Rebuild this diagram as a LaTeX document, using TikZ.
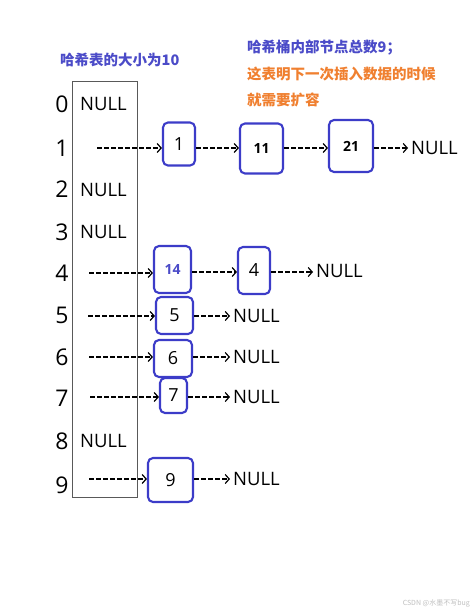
\documentclass[tikz,border=0pt]{standalone}
\usepackage{fontspec}
\setmainfont{Open Sans}
\newfontfamily\cjk{Noto Sans CJK SC}
\usetikzlibrary{arrows.meta}
\definecolor{boxblue}{RGB}{60,60,200}
\definecolor{titleblue}{RGB}{75,75,200}
\definecolor{noteorange}{RGB}{240,128,48}
\tikzset{
  bucket/.style={draw=boxblue,line width=2.1pt,rounded corners=5pt,inner sep=0pt},
  ptr/.style={dashed,dash pattern=on 4.5pt off 2.5pt,line width=1.25pt,-{Straight Barb[length=4pt,width=9pt,line width=1.2pt]}},
  idx/.style={font=\fontsize{23}{23}\selectfont,anchor=center},
  nulltxt/.style={font=\fontsize{18.5}{18.5}\selectfont,inner sep=0pt,anchor=west},
  val/.style={font=\fontsize{18}{18}\selectfont},
  bval/.style={font=\fontsize{14}{14}\selectfont\bfseries},
  cjktxt/.style={font=\cjk\bfseries\fontsize{14.5}{14.5}\selectfont,inner sep=0pt,anchor=west}
}
\begin{document}
\begin{tikzpicture}[x=1pt,y=-1pt]
\fill[white] (0,0) rectangle (474,610);
\useasboundingbox (0,0) rectangle (474,610);
% titles
\node[cjktxt,text=titleblue] (title) at (60,60) {哈希表的大小为10};
\node[cjktxt,text=titleblue] (note1) at (247,48) {哈希桶内部节点总数9；};
\node[cjktxt,text=noteorange] (note2) at (247,74) {这表明下一次插入数据的时候};
\node[cjktxt,text=noteorange] (note3) at (247,100) {就需要扩容};
% table
\node[draw=black!65,line width=0.9pt,minimum width=65pt,minimum height=416pt,inner sep=0pt] (table) at (104.5,289) {};
\foreach \i/\y in {0/104,1/148,2/189,3/232,4/273,5/315,6/357,7/398,8/441,9/485}{
  \node[idx] (i\i) at (62,\y) {\i};
}
\node[nulltxt] (t0) at (80,104) {NULL};
\node[nulltxt] (t2) at (80,190) {NULL};
\node[nulltxt] (t3) at (80,232) {NULL};
\node[nulltxt] (t8) at (80,441) {NULL};
% buckets
\node[bucket,minimum width=32pt,minimum height=43pt,val] (n1) at (179,144) {1};
\node[bucket,minimum width=43pt,minimum height=50pt,bval] (n11) at (261.5,148.5) {11};
\node[bucket,minimum width=44pt,minimum height=52pt,bval] (n21) at (351,146) {21};
\node[bucket,minimum width=37pt,minimum height=47pt,bval,text=titleblue] (n14) at (172.5,269.5) {14};
\node[bucket,minimum width=32pt,minimum height=47pt,val] (n4) at (254,270.5) {4};
\node[bucket,minimum width=37pt,minimum height=37pt,val] (n5) at (174.5,315.5) {5};
\node[bucket,minimum width=38pt,minimum height=37pt,val] (n6) at (173,358.5) {6};
\node[bucket,minimum width=27pt,minimum height=35pt,val] (n7) at (173.5,395.5) {7};
\node[bucket,minimum width=45pt,minimum height=44pt,val] (n9) at (170.5,480) {9};
% NULL ends
\node[nulltxt] (e1) at (411,148) {NULL};
\node[nulltxt] (e4) at (316,271) {NULL};
\node[nulltxt] (e5) at (233,316) {NULL};
\node[nulltxt] (e6) at (233,357) {NULL};
\node[nulltxt] (e7) at (233,397) {NULL};
\node[nulltxt] (e9) at (233,479) {NULL};
% start coordinates
\coordinate (s1) at (97,148);
\coordinate (s4) at (89,273);
\coordinate (r4) at (0,272);
\coordinate (s5) at (88,316);
\coordinate (s6) at (89,357);
\coordinate (s7) at (90,397);
\coordinate (s9) at (89,479);
% pointers
\draw[ptr] (s1) -- (n1.west |- s1);
\draw[ptr] (n1.east |- s1) -- (n11.west |- s1);
\draw[ptr] (n11.east |- s1) -- (n21.west |- s1);
\draw[ptr] (n21.east |- s1) -- ([xshift=-3pt]e1.west);
\draw[ptr] (s4) -- (n14.west |- s4);
\draw[ptr] (n14.east |- r4) -- (n4.west |- r4);
\draw[ptr] (n4.east |- r4) -- ([xshift=-3pt]e4.west |- r4);
\draw[ptr] (s5) -- (n5.west |- s5);
\draw[ptr] (n5.east |- s5) -- ([xshift=-3pt]e5.west);
\draw[ptr] (s6) -- (n6.west |- s6);
\draw[ptr] (n6.east |- s6) -- ([xshift=-3pt]e6.west);
\draw[ptr] (s7) -- (n7.west |- s7);
\draw[ptr] (n7.east |- s7) -- ([xshift=-3pt]e7.west);
\draw[ptr] (s9) -- (n9.west |- s9);
\draw[ptr] (n9.east |- s9) -- ([xshift=-3pt]e9.west);
% watermark
\node[font=\cjk\fontsize{7}{7}\selectfont,text=black!25,anchor=east,inner sep=0pt] (wm) at (470,603) {CSDN @水墨不写bug};
\end{tikzpicture}
\end{document}
